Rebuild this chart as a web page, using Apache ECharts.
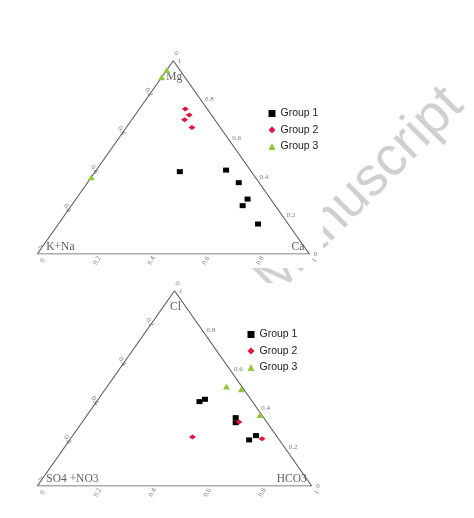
<!DOCTYPE html>
<html><head><meta charset="utf-8">
<style>html,body{margin:0;padding:0;background:#fff}#c{width:474px;height:518px}</style>
<script src="https://cdn.jsdelivr.net/npm/echarts@6/dist/echarts.min.js"></script>
</head><body><div id="c"></div>
<script>
// Cation triangle: [Ca, Mg]   (K+Na = 1 - Ca - Mg)
const cationGroup1 = [[0.311,0.426],[0.477,0.434],[0.556,0.369],[0.631,0.284],[0.630,0.250],[0.734,0.155]];
const cationGroup2 = [[0.169,0.750],[0.199,0.719],[0.194,0.695],[0.241,0.655]];
const cationGroup3 = [[0.0,0.952],[0.0,0.914],[0.0,0.397]];
// Anion triangle: [HCO3, Cl]  (SO4+NO3 = 1 - HCO3 - Cl)
const anionGroup1 = [[0.375,0.432],[0.389,0.444],[0.548,0.350],[0.561,0.324],[0.668,0.258],[0.654,0.236]];
const anionGroup2 = [[0.571,0.328],[0.440,0.251],[0.698,0.242]];
const anionGroup3 = [[0.435,0.509],[0.496,0.495],[0.630,0.364]];
const tickValues = [0, 0.2, 0.4, 0.6, 0.8, 1];
const groupNames = ['Group 1', 'Group 2', 'Group 3'];
const cationVertexNames = ['Mg', 'K+Na', 'Ca'];   // top, bottom-left, bottom-right
const anionVertexNames = ['Cl', 'SO4 +NO3', 'HCO3'];
const watermarkText = 'Accepted Manuscript';

const COLORS = ['#000000', '#e0143c', '#94c83c'];
const SYMBOLS = ['rect', 'diamond', 'triangle'];
const SIZES = [[6,5], [7,5], [7,6]];
const SERIF = '"Liberation Serif", "DejaVu Serif", serif';

function toXY(p) { return [p[0] + p[1] / 2, p[1]]; }
function fmt(v) { return v === 0 ? '0' : v === 1 ? '1' : v.toFixed(1); }

const hidden = { show: false, min: 0, max: 1 };

function triangleSeries(gi, groups, vnames) {
  const s = [];
  s.push({
    type: 'line', xAxisIndex: gi, yAxisIndex: gi, silent: true, symbol: 'none',
    data: [[0,0],[1,0],[0.5,1],[0,0]],
    lineStyle: { color: '#5a5a5a', width: 1.1 }, z: 1
  });
  groups.forEach((g, i) => {
    s.push({
      name: groupNames[i], type: 'scatter', xAxisIndex: gi, yAxisIndex: gi,
      symbol: SYMBOLS[i], symbolSize: SIZES[i],
      itemStyle: { color: COLORS[i], opacity: 1 },
      data: g.map(toXY), z: 3
    });
  });
  const lbl = { color: '#555', fontFamily: SERIF, fontSize: 7 };
  const blank = { color: 'rgba(0,0,0,0)' };
  // right edge (top vertex fraction)
  s.push({
    type: 'scatter', xAxisIndex: gi, yAxisIndex: gi, silent: true, symbolSize: 1, itemStyle: blank,
    data: tickValues.map(v => ({ name: fmt(v), value: toXY([1 - v, v]) })),
    label: Object.assign({ show: true, position: 'right', distance: 4, formatter: '{b}' }, lbl)
  });
  // left edge (bottom-left vertex fraction)
  s.push({
    type: 'scatter', xAxisIndex: gi, yAxisIndex: gi, silent: true, symbolSize: 1, itemStyle: blank,
    data: tickValues.map(v => ({ name: fmt(v), value: toXY([0, 1 - v]) })),
    label: Object.assign({ show: true, position: 'inside', offset: [-5, -6], rotate: -60, formatter: '{b}' }, lbl)
  });
  // bottom edge (bottom-right vertex fraction)
  s.push({
    type: 'scatter', xAxisIndex: gi, yAxisIndex: gi, silent: true, symbolSize: 1, itemStyle: blank,
    data: tickValues.map(v => ({ name: fmt(v), value: toXY([v, 0]) })),
    label: Object.assign({ show: true, position: 'inside', offset: [-3, 8], rotate: 60, formatter: '{b}' }, lbl)
  });
  // vertex names
  const vl = { show: true, formatter: '{b}', color: '#333', fontFamily: SERIF, fontSize: 11.5 };
  s.push({
    type: 'scatter', xAxisIndex: gi, yAxisIndex: gi, silent: true, symbolSize: 1, itemStyle: blank,
    data: [
      { name: vnames[0], value: [0.5, 1], label: Object.assign({}, vl, { position: 'inside', offset: [1, 16] }) },
      { name: vnames[1], value: [0, 0], label: Object.assign({}, vl, { position: 'inside', align: 'left', offset: [9, -7] }) },
      { name: vnames[2], value: [1, 0], label: Object.assign({}, vl, { position: 'inside', align: 'right', offset: [-5, -7] }) }
    ]
  });
  return s;
}

const legendData = groupNames.map((n, i) => ({ name: n, icon: SYMBOLS[i] }));
const legendBase = {
  data: legendData, orient: 'vertical', itemWidth: 7, itemHeight: 7, itemGap: 5.5,
  textStyle: { fontFamily: '"Liberation Sans", Arial, sans-serif', fontSize: 10.5, color: '#222' },
  selectedMode: false
};

const chart = echarts.init(document.getElementById('c'), null, { renderer: 'canvas' });
chart.setOption({
  animation: false,
  backgroundColor: '#fff',
  graphic: [
    { type: 'text', x: 474, y: 116, rotation: Math.PI / 4, z: 0, silent: true,
      style: { text: watermarkText, align: 'right', verticalAlign: 'bottom',
        font: '55px "Liberation Sans", Arial, sans-serif', fill: '#d0d0d0' } },
    { type: 'rect', z: 0, silent: true, shape: { x: 20, y: 40, width: 303, height: 228 }, style: { fill: '#fff' } },
    { type: 'rect', z: 0, silent: true, shape: { x: 20, y: 283, width: 303, height: 217 }, style: { fill: '#fff' } }
  ],
  grid: [
    { left: 37.3, top: 60.7, width: 272, height: 193.3 },
    { left: 37.3, top: 290.7, width: 274.4, height: 195.3 }
  ],
  xAxis: [Object.assign({ gridIndex: 0 }, hidden), Object.assign({ gridIndex: 1 }, hidden)],
  yAxis: [Object.assign({ gridIndex: 0 }, hidden), Object.assign({ gridIndex: 1 }, hidden)],
  legend: [
    Object.assign({ left: 263.5, top: 103 }, legendBase),
    Object.assign({ left: 242.5, top: 324 }, legendBase)
  ],
  series: [].concat(
    triangleSeries(0, [cationGroup1, cationGroup2, cationGroup3], cationVertexNames),
    triangleSeries(1, [anionGroup1, anionGroup2, anionGroup3], anionVertexNames)
  )
});
</script></body></html>
